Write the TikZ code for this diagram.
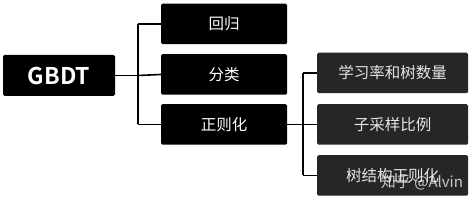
\documentclass[tikz,border=0pt]{standalone}
\usepackage{fontspec}
\newfontfamily\cjk{Noto Sans CJK SC}
\newfontfamily\cjkb{Noto Sans CJK SC Bold}
\begin{document}
\begin{tikzpicture}[x=1pt,y=-1pt,
  rootbox/.style={fill=black, text=white, rounded corners=1.5pt, inner sep=0pt},
  lvla/.style={fill=black, text=white, rounded corners=1.5pt, inner sep=0pt, minimum width=126pt, minimum height=40.5pt, font=\cjk\fontsize{15.5pt}{17pt}\selectfont},
  lvlb/.style={fill=black!85, text=white!90!black, rounded corners=1.5pt, inner sep=0pt, minimum width=151pt, minimum height=40.5pt, font=\cjk\fontsize{15.5pt}{17pt}\selectfont},
  conn/.style={draw=black, line width=1.6pt}]
\useasboundingbox (0,0) rectangle (474,200);
\fill[white] (0,0) rectangle (474,200);
\node[rootbox, minimum width=112pt, minimum height=41pt, font=\cjkb\fontsize{23pt}{26pt}\selectfont] (g) at (59,75.5) {GBDT};
\node[lvla] (a1) at (224,24) {回归};
\node[lvla] (a2) at (224,74.5) {分类};
\node[lvla] (a3) at (224,124.5) {正则化};
\node[lvlb] (b1) at (392.5,73) {学习率和树数量};
\node[lvlb] (b2) at (392.5,124.5) {子采样比例};
\node[lvlb] (b3) at (392.5,175.5) {树结构正则化};
\coordinate (j1) at (138,75.5);
\coordinate (j2) at (303,124.5);
\draw[conn] (g.east) -- (j1);
\draw[conn] (j1 |- a1.west) -- (a1.west);
\draw[conn] (j1 |- a3.west) -- (a3.west);
\draw[conn] (j1 |- a1.west) -- (j1 |- a3.west);
\draw[conn] (j1) -- (a2.west);
\draw[conn] (a3.east) -- (b2.west);
\draw[conn] (j2 |- b1.west) -- (b1.west);
\draw[conn] (j2 |- b3.west) -- (b3.west);
\draw[conn] (j2 |- b1.west) -- (j2 |- b3.west);
\node[text=white, opacity=0.75, font=\cjk\fontsize{15pt}{17pt}\selectfont, inner sep=0pt] (wm) at (422,182) {知乎 @Alvin};
\end{tikzpicture}
\end{document}
